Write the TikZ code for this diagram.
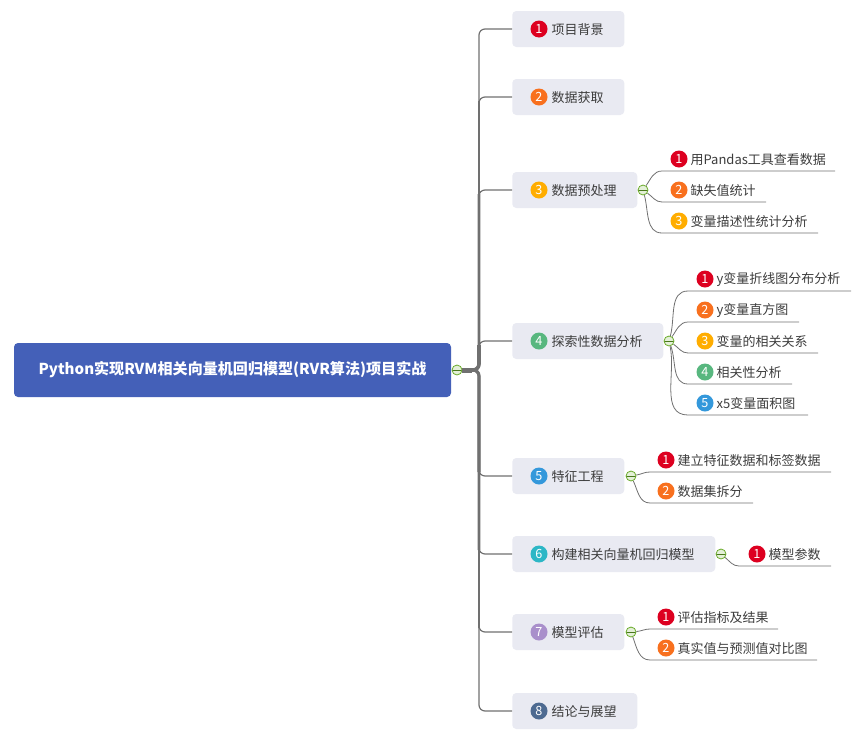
\documentclass[tikz,border=0pt]{standalone}
\usepackage{fontspec}
\setmainfont{Noto Sans CJK SC}
\definecolor{cred}{HTML}{DD0020}
\definecolor{corange}{HTML}{F8701E}
\definecolor{camber}{HTML}{FFAD00}
\definecolor{cgreen}{HTML}{58B77F}
\definecolor{cblue}{HTML}{3498DB}
\definecolor{cteal}{HTML}{2DB7C6}
\definecolor{cpurple}{HTML}{A98FCB}
\definecolor{cslate}{HTML}{4D6A91}
\definecolor{rootblue}{HTML}{4460B8}
\definecolor{boxgrey}{HTML}{E9EAF2}
\definecolor{linegrey}{HTML}{707070}
\definecolor{textgrey}{HTML}{3C3C3C}
\definecolor{knobgreen}{HTML}{6AAB2A}
\definecolor{knobfill}{HTML}{E4F0D8}
\tikzset{
  rootbox/.style={rectangle, rounded corners=3pt, fill=rootblue, text=white, font=\fontsize{11.3}{13}\selectfont\bfseries, minimum width=327.75pt, minimum height=40.5pt, inner sep=0pt},
  topicbox/.style={rectangle, rounded corners=3pt, fill=boxgrey, anchor=west, minimum height=27pt, inner sep=0pt},
  badge/.style={circle, fill=#1, text=white, font=\fontsize{9.5}{10}\selectfont, minimum size=12.75pt, inner sep=0pt},
  label/.style={anchor=west, text=textgrey, font=\fontsize{9.75}{12}\selectfont, inner sep=0pt, xshift=-0.5pt, yshift=-0.6pt},
  knob/.style={circle, draw=knobgreen, fill=knobfill, line width=0.6pt, minimum size=7.5pt, inner sep=0pt,
    path picture={\draw[knobgreen!70!black, line width=0.7pt] (path picture bounding box.west) -- (path picture bounding box.east);}},
  branch/.style={draw=linegrey, line width=0.9pt, rounded corners=4.5pt},
  trunk/.style={draw=linegrey, rounded corners=4.5pt, shorten >=3pt},
  twig/.style={draw=linegrey, line width=0.6pt}
}
\begin{document}
\begin{tikzpicture}[x=0.75pt, y=-0.75pt]
\useasboundingbox (0,0) rectangle (867,743);
% root
\node[rootbox] (root) at (232.5,370){Python实现RVM相关向量机回归模型(RVR算法)项目实战};
\node[knob] (kroot) at (457,370){};
\coordinate (j) at (479,370);
% topics
\node[topicbox, minimum width=84pt] (box1) at (512,29){};
\node[topicbox, minimum width=84pt] (box2) at (512,97){};
\node[topicbox, minimum width=93.75pt] (box3) at (512,190){};
\node[topicbox, minimum width=113.25pt] (box4) at (512,341){};
\node[topicbox, minimum width=84pt] (box5) at (512,476){};
\node[topicbox, minimum width=152.25pt] (box6) at (512,554){};
\node[topicbox, minimum width=84pt] (box7) at (512,632){};
\node[topicbox, minimum width=93.75pt] (box8) at (512,711){};
\node[badge=cred] (b1) at (539,29){1};
\node[badge=corange] (b2) at (539,97){2};
\node[badge=camber] (b3) at (539,190){3};
\node[badge=cgreen] (b4) at (539,341){4};
\node[badge=cblue] (b5) at (539,476){5};
\node[badge=cteal] (b6) at (539,554){6};
\node[badge=cpurple] (b7) at (539,632){7};
\node[badge=cslate] (b8) at (539,711){8};
\node[label] (l1) at (552,29){项目背景};
\node[label] (l2) at (552,97){数据获取};
\node[label] (l3) at (552,190){数据预处理};
\node[label] (l4) at (552,341){探索性数据分析};
\node[label] (l5) at (552,476){特征工程};
\node[label] (l6) at (552,554){构建相关向量机回归模型};
\node[label] (l7) at (552,632){模型评估};
\node[label] (l8) at (552,711){结论与展望};
% trunk
\coordinate (t1) at (479,29);
\coordinate (t2) at (479,97);
\coordinate (t3) at (479,190);
\coordinate (t4) at (479,341);
\coordinate (t5) at (479,476);
\coordinate (t6) at (479,554);
\coordinate (t7) at (479,632);
\coordinate (t8) at (479,711);
\draw[branch] (kroot.east) -| (t1) -- (box1.west);
\draw[branch] (kroot.east) -| (t2) -- (box2.west);
\draw[branch] (kroot.east) -| (t3) -- (box3.west);
\draw[branch] (kroot.east) -| (t4) -- (box4.west);
\draw[branch] (kroot.east) -| (t5) -- (box5.west);
\draw[branch] (kroot.east) -| (t6) -- (box6.west);
\draw[branch] (kroot.east) -| (t7) -- (box7.west);
\draw[branch] (kroot.east) -| (t8) -- (box8.west);
\draw[trunk, line width=1.4pt] (kroot.east) -| (t2);
\draw[trunk, line width=2.2pt] (kroot.east) -| (t3);
\draw[trunk, line width=2.7pt] (kroot.east) -| (t4);
\draw[trunk, line width=2.4pt] (kroot.east) -| (t5);
\draw[trunk, line width=1.9pt] (kroot.east) -| (t6);
\draw[trunk, line width=1.3pt] (kroot.east) -| (t7);
\draw[draw=linegrey, line width=3.75pt, shorten >=5pt] (kroot.east) -- (j);
% data preprocessing
\node[knob] (k3) at (643,190){};
\node[badge=cred] (b31) at (679,159){1};
\node[label] (l31) at (691,159){用Pandas工具查看数据};
\node[badge=corange] (b32) at (679,190){2};
\node[label] (l32) at (691,190){缺失值统计};
\node[badge=camber] (b33) at (679,221){3};
\node[label] (l33) at (691,221){变量描述性统计分析};
\coordinate (u31) at (662,171);
\coordinate (v31) at (835,171);
\coordinate (u32) at (662,202);
\coordinate (v32) at (766,202);
\coordinate (u33) at (662,233);
\coordinate (v33) at (818,233);
\draw[twig] (k3) to[out=55,in=180] (u31) -- (v31);
\draw[twig] (k3) to[out=-35,in=180] (u32) -- (v32);
\draw[twig] (k3) to[out=-75,in=180] (u33) -- (v33);
% exploratory analysis
\node[knob] (k4) at (669,341){};
\node[badge=cred] (b41) at (705,279){1};
\node[label] (l41) at (717,279){y变量折线图分布分析};
\node[badge=corange] (b42) at (705,310){2};
\node[label] (l42) at (717,310){y变量直方图};
\node[badge=camber] (b43) at (705,341){3};
\node[label] (l43) at (717,341){变量的相关关系};
\node[badge=cgreen] (b44) at (705,372){4};
\node[label] (l44) at (717,372){相关性分析};
\node[badge=cblue] (b45) at (705,403){5};
\node[label] (l45) at (717,403){x5变量面积图};
\coordinate (u41) at (688,291);
\coordinate (v41) at (851,291);
\coordinate (u42) at (688,322);
\coordinate (v42) at (799,322);
\coordinate (u43) at (688,353);
\coordinate (v43) at (818,353);
\coordinate (u44) at (688,384);
\coordinate (v44) at (792,384);
\coordinate (u45) at (688,415);
\coordinate (v45) at (808,415);
\draw[twig] (k4) to[out=75,in=180] (u41) -- (v41);
\draw[twig] (k4) to[out=55,in=180] (u42) -- (v42);
\draw[twig] (k4) to[out=-35,in=180] (u43) -- (v43);
\draw[twig] (k4) to[out=-70,in=180] (u44) -- (v44);
\draw[twig] (k4) to[out=-78,in=180] (u45) -- (v45);
% feature engineering
\node[knob] (k5) at (631,476){};
\node[badge=cred] (b51) at (666,460){1};
\node[label] (l51) at (678,460){建立特征数据和标签数据};
\node[badge=corange] (b52) at (666,491){2};
\node[label] (l52) at (678,491){数据集拆分};
\coordinate (u51) at (650,472);
\coordinate (v51) at (831,472);
\coordinate (u52) at (650,503);
\coordinate (v52) at (753,503);
\draw[twig] (k5) to[out=10,in=180] (u51) -- (v51);
\draw[twig] (k5) to[out=-65,in=180] (u52) -- (v52);
% model
\node[knob] (k6) at (721,554){};
\node[badge=cred] (b61) at (757,554){1};
\node[label] (l61) at (769,554){模型参数};
\coordinate (u61) at (739,566);
\coordinate (v61) at (831,566);
\draw[twig] (k6) to[out=-40,in=180] (u61) -- (v61);
% evaluation
\node[knob] (k7) at (631,632){};
\node[badge=cred] (b71) at (666,617){1};
\node[label] (l71) at (678,617){评估指标及结果};
\node[badge=corange] (b72) at (666,648){2};
\node[label] (l72) at (678,648){真实值与预测值对比图};
\coordinate (u71) at (650,629);
\coordinate (v71) at (778,629);
\coordinate (u72) at (650,660);
\coordinate (v72) at (817,660);
\draw[twig] (k7) to[out=5,in=180] (u71) -- (v71);
\draw[twig] (k7) to[out=-70,in=180] (u72) -- (v72);
\end{tikzpicture}
\end{document}
